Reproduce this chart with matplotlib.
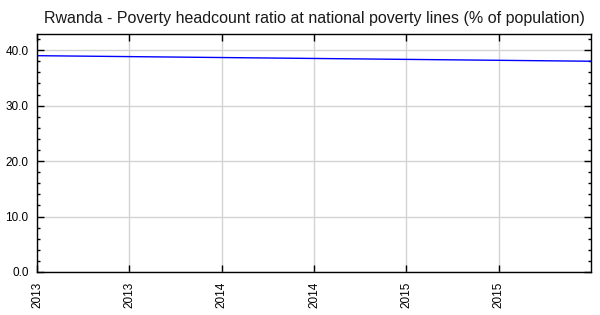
import matplotlib
matplotlib.use("Agg")
import matplotlib.pyplot as plt
from matplotlib.ticker import MultipleLocator, FixedLocator, FixedFormatter, NullLocator

plt.rcParams['font.family'] = ['Liberation Sans', 'DejaVu Sans']

title = "Rwanda - Poverty headcount ratio at national poverty lines (% of population)"
years = [2013.0, 2016.0]
values = [39.0, 38.0]
xtick_pos = [2013.0, 2013.5, 2014.0, 2014.5, 2015.0, 2015.5]
xtick_labels = ["2013", "2013", "2014", "2014", "2015", "2015"]
yticks = [0, 10, 20, 30, 40]

fig = plt.figure(figsize=(6.0, 3.15), dpi=100)
ax = fig.add_axes([37/600, (315-272)/315, (591-37)/600, (272-33.5)/315])

ax.plot(years, values, color='#0000ff', linewidth=1.0)

ax.set_xlim(2013.0, 2016.0)
ax.set_ylim(0, 43)
ax.xaxis.set_major_locator(FixedLocator(xtick_pos))
ax.xaxis.set_major_formatter(FixedFormatter(xtick_labels))
ax.xaxis.set_minor_locator(NullLocator())
ax.set_yticks(yticks)
ax.set_yticklabels([f"{v:.1f}" for v in yticks])
ax.yaxis.set_minor_locator(MultipleLocator(2))

ax.grid(True, which='major', color='#d3d3d3', linewidth=1.0)
ax.set_axisbelow(True)

ax.tick_params(axis='both', which='major', direction='in', length=5, width=1,
               top=True, right=True, labelsize=8.5, colors='black')
ax.tick_params(axis='y', which='minor', direction='in', length=2.2, width=1,
               left=True, right=True)
ax.tick_params(axis='x', which='major', pad=7, labelrotation=90)
ax.tick_params(axis='y', which='major', pad=6)

for sp in ax.spines.values():
    sp.set_color('black')
    sp.set_linewidth(1.0)

fig.text((37+591)/2/600, 1 - 18/315, title, ha='center', va='center',
         fontsize=11.5, color='#1a1a1a')

fig.savefig("out.png", dpi=100)
